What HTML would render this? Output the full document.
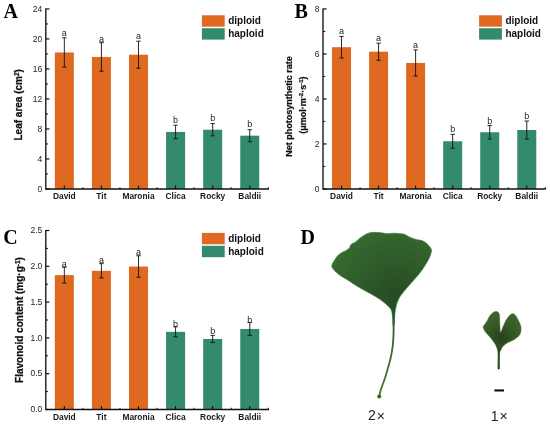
<!DOCTYPE html>
<html><head><meta charset="utf-8"><title>Figure</title>
<style>
html,body{margin:0;padding:0;background:#fff;}
svg{display:block;font-family:"Liberation Sans",sans-serif;}
</style></head>
<body>
<svg width="550" height="426" viewBox="0 0 550 426">
<defs>
<radialGradient id="lg1" gradientUnits="userSpaceOnUse" cx="396" cy="296" r="82">
<stop offset="0" stop-color="#264a24"/>
<stop offset="0.4" stop-color="#2e5929"/>
<stop offset="0.8" stop-color="#35682e"/>
<stop offset="1" stop-color="#3f7a36"/>
</radialGradient>
<linearGradient id="sg" gradientUnits="userSpaceOnUse" x1="0" y1="314" x2="0" y2="396">
<stop offset="0" stop-color="#245329"/>
<stop offset="0.25" stop-color="#3a6428"/>
<stop offset="1" stop-color="#507226"/>
</linearGradient>
<radialGradient id="lg2" gradientUnits="userSpaceOnUse" cx="501" cy="338" r="24">
<stop offset="0" stop-color="#26411c"/>
<stop offset="0.55" stop-color="#325725"/>
<stop offset="1" stop-color="#3d652a"/>
</radialGradient>
</defs>
<rect width="550" height="426" fill="#fff"/>
<rect x="54.84" y="52.45" width="19.0" height="136.50" fill="#DF6921"/>
<rect x="91.92" y="56.95" width="19.0" height="132.00" fill="#DF6921"/>
<rect x="129.01" y="54.70" width="19.0" height="134.25" fill="#DF6921"/>
<rect x="166.09" y="131.95" width="19.0" height="57.00" fill="#348A6F"/>
<rect x="203.18" y="129.70" width="19.0" height="59.25" fill="#348A6F"/>
<rect x="240.26" y="135.70" width="19.0" height="53.25" fill="#348A6F"/>
<path d="M64.34 37.82V67.07M62.14 37.82h4.4M62.14 67.07h4.4" stroke="#111" stroke-width="0.9" fill="none"/>
<text x="64.34" y="35.92" font-size="9" text-anchor="middle" fill="#222">a</text>
<path d="M101.42 42.70V71.20M99.22 42.70h4.4M99.22 71.20h4.4" stroke="#111" stroke-width="0.9" fill="none"/>
<text x="101.42" y="41.60" font-size="9" text-anchor="middle" fill="#222">a</text>
<path d="M138.51 41.20V68.20M136.31 41.20h4.4M136.31 68.20h4.4" stroke="#111" stroke-width="0.9" fill="none"/>
<text x="138.51" y="39.30" font-size="9" text-anchor="middle" fill="#222">a</text>
<path d="M175.59 125.20V138.70M173.39 125.20h4.4M173.39 138.70h4.4" stroke="#111" stroke-width="0.9" fill="none"/>
<text x="175.59" y="123.30" font-size="9" text-anchor="middle" fill="#222">b</text>
<path d="M212.68 123.55V135.85M210.48 123.55h4.4M210.48 135.85h4.4" stroke="#111" stroke-width="0.9" fill="none"/>
<text x="212.68" y="121.25" font-size="9" text-anchor="middle" fill="#222">b</text>
<path d="M249.76 129.70V141.70M247.56 129.70h4.4M247.56 141.70h4.4" stroke="#111" stroke-width="0.9" fill="none"/>
<text x="249.76" y="127.40" font-size="9" text-anchor="middle" fill="#222">b</text>
<path d="M45.8 8.45V188.95H268.90000000000003" stroke="#111" stroke-width="1.35" fill="none"/>
<path d="M45.8 188.95h3.6" stroke="#111" stroke-width="1.2"/>
<text x="42.30" y="192.05" font-size="8.5" text-anchor="end" fill="#222">0</text>
<path d="M45.8 158.95h3.6" stroke="#111" stroke-width="1.2"/>
<text x="42.30" y="162.05" font-size="8.5" text-anchor="end" fill="#222">4</text>
<path d="M45.8 128.95h3.6" stroke="#111" stroke-width="1.2"/>
<text x="42.30" y="132.05" font-size="8.5" text-anchor="end" fill="#222">8</text>
<path d="M45.8 98.95h3.6" stroke="#111" stroke-width="1.2"/>
<text x="42.30" y="102.05" font-size="8.5" text-anchor="end" fill="#222">12</text>
<path d="M45.8 68.95h3.6" stroke="#111" stroke-width="1.2"/>
<text x="42.30" y="72.05" font-size="8.5" text-anchor="end" fill="#222">16</text>
<path d="M45.8 38.95h3.6" stroke="#111" stroke-width="1.2"/>
<text x="42.30" y="42.05" font-size="8.5" text-anchor="end" fill="#222">20</text>
<path d="M45.8 8.95h3.6" stroke="#111" stroke-width="1.2"/>
<text x="42.30" y="12.05" font-size="8.5" text-anchor="end" fill="#222">24</text>
<path d="M45.8 173.95h2.3" stroke="#111" stroke-width="1"/>
<path d="M45.8 143.95h2.3" stroke="#111" stroke-width="1"/>
<path d="M45.8 113.95h2.3" stroke="#111" stroke-width="1"/>
<path d="M45.8 83.95h2.3" stroke="#111" stroke-width="1"/>
<path d="M45.8 53.95h2.3" stroke="#111" stroke-width="1"/>
<path d="M45.8 23.95h2.3" stroke="#111" stroke-width="1"/>
<path d="M268.30 188.95v-1.7" stroke="#111" stroke-width="1"/>
<path d="M64.34 188.95v-3.4" stroke="#111" stroke-width="1.1"/>
<text x="64.34" y="199.15" font-size="8.4" font-weight="bold" text-anchor="middle" fill="#1a1a1a">David</text>
<path d="M101.42 188.95v-3.4" stroke="#111" stroke-width="1.1"/>
<path d="M82.88 188.95v-1.7" stroke="#111" stroke-width="1"/>
<text x="101.42" y="199.15" font-size="8.4" font-weight="bold" text-anchor="middle" fill="#1a1a1a">Tit</text>
<path d="M138.51 188.95v-3.4" stroke="#111" stroke-width="1.1"/>
<path d="M119.97 188.95v-1.7" stroke="#111" stroke-width="1"/>
<text x="138.51" y="199.15" font-size="8.4" font-weight="bold" text-anchor="middle" fill="#1a1a1a">Maronia</text>
<path d="M175.59 188.95v-3.4" stroke="#111" stroke-width="1.1"/>
<path d="M157.05 188.95v-1.7" stroke="#111" stroke-width="1"/>
<text x="175.59" y="199.15" font-size="8.4" font-weight="bold" text-anchor="middle" fill="#1a1a1a">Clica</text>
<path d="M212.68 188.95v-3.4" stroke="#111" stroke-width="1.1"/>
<path d="M194.13 188.95v-1.7" stroke="#111" stroke-width="1"/>
<text x="212.68" y="199.15" font-size="8.4" font-weight="bold" text-anchor="middle" fill="#1a1a1a">Rocky</text>
<path d="M249.76 188.95v-3.4" stroke="#111" stroke-width="1.1"/>
<path d="M231.22 188.95v-1.7" stroke="#111" stroke-width="1"/>
<text x="249.76" y="199.15" font-size="8.4" font-weight="bold" text-anchor="middle" fill="#1a1a1a">Baldii</text>
<rect x="201.90" y="15.30" width="22.8" height="11.4" fill="#DF6921"/>
<rect x="201.90" y="28.20" width="22.8" height="11.4" fill="#348A6F"/>
<text x="228.20" y="24.20" font-size="10" font-weight="bold" fill="#111">diploid</text>
<text x="228.20" y="37.10" font-size="10" font-weight="bold" fill="#111">haploid</text>
<text x="3.5" y="17.7" font-family="Liberation Serif, serif" font-size="20" font-weight="bold" fill="#000">A</text>
<text transform="translate(22.2 104.8) rotate(-90)" stroke="#111" stroke-width="0.25" font-size="10" font-weight="bold" text-anchor="middle" fill="#111">Leaf area (cm<tspan font-size="6.5" dy="-3.6">2</tspan><tspan dy="3.6">)</tspan></text>
<rect x="332.02" y="47.20" width="19.0" height="141.75" fill="#DF6921"/>
<rect x="369.07" y="51.70" width="19.0" height="137.25" fill="#DF6921"/>
<rect x="406.12" y="62.95" width="19.0" height="126.00" fill="#DF6921"/>
<rect x="443.17" y="141.25" width="19.0" height="47.70" fill="#348A6F"/>
<rect x="480.22" y="132.25" width="19.0" height="56.70" fill="#348A6F"/>
<rect x="517.27" y="130.00" width="19.0" height="58.95" fill="#348A6F"/>
<path d="M341.52 36.40V58.00M339.32 36.40h4.4M339.32 58.00h4.4" stroke="#111" stroke-width="0.9" fill="none"/>
<text x="341.52" y="33.70" font-size="9" text-anchor="middle" fill="#222">a</text>
<path d="M378.57 43.15V60.25M376.38 43.15h4.4M376.38 60.25h4.4" stroke="#111" stroke-width="0.9" fill="none"/>
<text x="378.57" y="41.35" font-size="9" text-anchor="middle" fill="#222">a</text>
<path d="M415.62 49.90V76.00M413.43 49.90h4.4M413.43 76.00h4.4" stroke="#111" stroke-width="0.9" fill="none"/>
<text x="415.62" y="48.00" font-size="9" text-anchor="middle" fill="#222">a</text>
<path d="M452.67 134.27V148.22M450.47 134.27h4.4M450.47 148.22h4.4" stroke="#111" stroke-width="0.9" fill="none"/>
<text x="452.67" y="132.37" font-size="9" text-anchor="middle" fill="#222">b</text>
<path d="M489.72 125.50V139.00M487.52 125.50h4.4M487.52 139.00h4.4" stroke="#111" stroke-width="0.9" fill="none"/>
<text x="489.72" y="123.60" font-size="9" text-anchor="middle" fill="#222">b</text>
<path d="M526.77 121.00V139.00M524.57 121.00h4.4M524.57 139.00h4.4" stroke="#111" stroke-width="0.9" fill="none"/>
<text x="526.77" y="118.50" font-size="9" text-anchor="middle" fill="#222">b</text>
<path d="M323.0 8.45V188.95H545.9" stroke="#111" stroke-width="1.35" fill="none"/>
<path d="M323.0 188.95h3.6" stroke="#111" stroke-width="1.2"/>
<text x="319.50" y="192.05" font-size="8.5" text-anchor="end" fill="#222">0</text>
<path d="M323.0 143.95h3.6" stroke="#111" stroke-width="1.2"/>
<text x="319.50" y="147.05" font-size="8.5" text-anchor="end" fill="#222">2</text>
<path d="M323.0 98.95h3.6" stroke="#111" stroke-width="1.2"/>
<text x="319.50" y="102.05" font-size="8.5" text-anchor="end" fill="#222">4</text>
<path d="M323.0 53.95h3.6" stroke="#111" stroke-width="1.2"/>
<text x="319.50" y="57.05" font-size="8.5" text-anchor="end" fill="#222">6</text>
<path d="M323.0 8.95h3.6" stroke="#111" stroke-width="1.2"/>
<text x="319.50" y="12.05" font-size="8.5" text-anchor="end" fill="#222">8</text>
<path d="M323.0 166.45h2.3" stroke="#111" stroke-width="1"/>
<path d="M323.0 121.45h2.3" stroke="#111" stroke-width="1"/>
<path d="M323.0 76.45h2.3" stroke="#111" stroke-width="1"/>
<path d="M323.0 31.45h2.3" stroke="#111" stroke-width="1"/>
<path d="M545.30 188.95v-1.7" stroke="#111" stroke-width="1"/>
<path d="M341.52 188.95v-3.4" stroke="#111" stroke-width="1.1"/>
<text x="341.52" y="199.15" font-size="8.4" font-weight="bold" text-anchor="middle" fill="#1a1a1a">David</text>
<path d="M378.57 188.95v-3.4" stroke="#111" stroke-width="1.1"/>
<path d="M360.05 188.95v-1.7" stroke="#111" stroke-width="1"/>
<text x="378.57" y="199.15" font-size="8.4" font-weight="bold" text-anchor="middle" fill="#1a1a1a">Tit</text>
<path d="M415.62 188.95v-3.4" stroke="#111" stroke-width="1.1"/>
<path d="M397.10 188.95v-1.7" stroke="#111" stroke-width="1"/>
<text x="415.62" y="199.15" font-size="8.4" font-weight="bold" text-anchor="middle" fill="#1a1a1a">Maronia</text>
<path d="M452.67 188.95v-3.4" stroke="#111" stroke-width="1.1"/>
<path d="M434.15 188.95v-1.7" stroke="#111" stroke-width="1"/>
<text x="452.67" y="199.15" font-size="8.4" font-weight="bold" text-anchor="middle" fill="#1a1a1a">Clica</text>
<path d="M489.72 188.95v-3.4" stroke="#111" stroke-width="1.1"/>
<path d="M471.20 188.95v-1.7" stroke="#111" stroke-width="1"/>
<text x="489.72" y="199.15" font-size="8.4" font-weight="bold" text-anchor="middle" fill="#1a1a1a">Rocky</text>
<path d="M526.77 188.95v-3.4" stroke="#111" stroke-width="1.1"/>
<path d="M508.25 188.95v-1.7" stroke="#111" stroke-width="1"/>
<text x="526.77" y="199.15" font-size="8.4" font-weight="bold" text-anchor="middle" fill="#1a1a1a">Baldii</text>
<rect x="479.10" y="15.30" width="22.8" height="11.4" fill="#DF6921"/>
<rect x="479.10" y="28.20" width="22.8" height="11.4" fill="#348A6F"/>
<text x="505.40" y="24.20" font-size="10" font-weight="bold" fill="#111">diploid</text>
<text x="505.40" y="37.10" font-size="10" font-weight="bold" fill="#111">haploid</text>
<text x="294.5" y="17.7" font-family="Liberation Serif, serif" font-size="20" font-weight="bold" fill="#000">B</text>
<text transform="translate(292.3 106.6) rotate(-90)" stroke="#111" stroke-width="0.25" font-size="9" font-weight="bold" text-anchor="middle" fill="#111">Net photosynthetic rate</text>
<text transform="translate(306.0 105.1) rotate(-90)" stroke="#111" stroke-width="0.25" font-size="9" font-weight="bold" text-anchor="middle" fill="#111">(μmol·m<tspan font-size="6" dy="-3.2">-2</tspan><tspan dy="3.2">·s</tspan><tspan font-size="6" dy="-3.2">-1</tspan><tspan dy="3.2">)</tspan></text>
<rect x="54.84" y="275.11" width="19.0" height="134.39" fill="#DF6921"/>
<rect x="91.92" y="270.81" width="19.0" height="138.69" fill="#DF6921"/>
<rect x="129.01" y="266.51" width="19.0" height="142.99" fill="#DF6921"/>
<rect x="166.09" y="331.81" width="19.0" height="77.69" fill="#348A6F"/>
<rect x="203.18" y="338.97" width="19.0" height="70.53" fill="#348A6F"/>
<rect x="240.26" y="328.95" width="19.0" height="80.55" fill="#348A6F"/>
<path d="M64.34 267.23V282.98M62.14 267.23h4.4M62.14 282.98h4.4" stroke="#111" stroke-width="0.9" fill="none"/>
<text x="64.34" y="267.13" font-size="9" text-anchor="middle" fill="#222">a</text>
<path d="M101.42 263.65V277.97M99.22 263.65h4.4M99.22 277.97h4.4" stroke="#111" stroke-width="0.9" fill="none"/>
<text x="101.42" y="262.95" font-size="9" text-anchor="middle" fill="#222">a</text>
<path d="M138.51 255.77V277.25M136.31 255.77h4.4M136.31 277.25h4.4" stroke="#111" stroke-width="0.9" fill="none"/>
<text x="138.51" y="255.27" font-size="9" text-anchor="middle" fill="#222">a</text>
<path d="M175.59 326.80V336.83M173.39 326.80h4.4M173.39 336.83h4.4" stroke="#111" stroke-width="0.9" fill="none"/>
<text x="175.59" y="326.80" font-size="9" text-anchor="middle" fill="#222">b</text>
<path d="M212.68 335.39V342.55M210.48 335.39h4.4M210.48 342.55h4.4" stroke="#111" stroke-width="0.9" fill="none"/>
<text x="212.68" y="333.79" font-size="9" text-anchor="middle" fill="#222">b</text>
<path d="M249.76 322.51V335.39M247.56 322.51h4.4M247.56 335.39h4.4" stroke="#111" stroke-width="0.9" fill="none"/>
<text x="249.76" y="322.51" font-size="9" text-anchor="middle" fill="#222">b</text>
<path d="M45.8 230.0V409.5H268.90000000000003" stroke="#111" stroke-width="1.35" fill="none"/>
<path d="M45.8 409.50h3.6" stroke="#111" stroke-width="1.2"/>
<text x="42.30" y="412.10" font-size="8.5" text-anchor="end" fill="#222">0.0</text>
<path d="M45.8 373.70h3.6" stroke="#111" stroke-width="1.2"/>
<text x="42.30" y="376.30" font-size="8.5" text-anchor="end" fill="#222">0.5</text>
<path d="M45.8 337.90h3.6" stroke="#111" stroke-width="1.2"/>
<text x="42.30" y="340.50" font-size="8.5" text-anchor="end" fill="#222">1.0</text>
<path d="M45.8 302.10h3.6" stroke="#111" stroke-width="1.2"/>
<text x="42.30" y="304.70" font-size="8.5" text-anchor="end" fill="#222">1.5</text>
<path d="M45.8 266.30h3.6" stroke="#111" stroke-width="1.2"/>
<text x="42.30" y="268.90" font-size="8.5" text-anchor="end" fill="#222">2.0</text>
<path d="M45.8 230.50h3.6" stroke="#111" stroke-width="1.2"/>
<text x="42.30" y="233.10" font-size="8.5" text-anchor="end" fill="#222">2.5</text>
<path d="M45.8 391.60h2.3" stroke="#111" stroke-width="1"/>
<path d="M45.8 355.80h2.3" stroke="#111" stroke-width="1"/>
<path d="M45.8 320.00h2.3" stroke="#111" stroke-width="1"/>
<path d="M45.8 284.20h2.3" stroke="#111" stroke-width="1"/>
<path d="M45.8 248.40h2.3" stroke="#111" stroke-width="1"/>
<path d="M268.30 409.5v-1.7" stroke="#111" stroke-width="1"/>
<path d="M64.34 409.5v-3.4" stroke="#111" stroke-width="1.1"/>
<text x="64.34" y="419.70" font-size="8.4" font-weight="bold" text-anchor="middle" fill="#1a1a1a">David</text>
<path d="M101.42 409.5v-3.4" stroke="#111" stroke-width="1.1"/>
<path d="M82.88 409.5v-1.7" stroke="#111" stroke-width="1"/>
<text x="101.42" y="419.70" font-size="8.4" font-weight="bold" text-anchor="middle" fill="#1a1a1a">Tit</text>
<path d="M138.51 409.5v-3.4" stroke="#111" stroke-width="1.1"/>
<path d="M119.97 409.5v-1.7" stroke="#111" stroke-width="1"/>
<text x="138.51" y="419.70" font-size="8.4" font-weight="bold" text-anchor="middle" fill="#1a1a1a">Maronia</text>
<path d="M175.59 409.5v-3.4" stroke="#111" stroke-width="1.1"/>
<path d="M157.05 409.5v-1.7" stroke="#111" stroke-width="1"/>
<text x="175.59" y="419.70" font-size="8.4" font-weight="bold" text-anchor="middle" fill="#1a1a1a">Clica</text>
<path d="M212.68 409.5v-3.4" stroke="#111" stroke-width="1.1"/>
<path d="M194.13 409.5v-1.7" stroke="#111" stroke-width="1"/>
<text x="212.68" y="419.70" font-size="8.4" font-weight="bold" text-anchor="middle" fill="#1a1a1a">Rocky</text>
<path d="M249.76 409.5v-3.4" stroke="#111" stroke-width="1.1"/>
<path d="M231.22 409.5v-1.7" stroke="#111" stroke-width="1"/>
<text x="249.76" y="419.70" font-size="8.4" font-weight="bold" text-anchor="middle" fill="#1a1a1a">Baldii</text>
<rect x="201.90" y="232.90" width="22.8" height="11.4" fill="#DF6921"/>
<rect x="201.90" y="245.80" width="22.8" height="11.4" fill="#348A6F"/>
<text x="228.20" y="241.80" font-size="10" font-weight="bold" fill="#111">diploid</text>
<text x="228.20" y="254.70" font-size="10" font-weight="bold" fill="#111">haploid</text>
<text x="3.2" y="243.9" font-family="Liberation Serif, serif" font-size="20" font-weight="bold" fill="#000">C</text>
<text transform="translate(23.1 320) rotate(-90)" stroke="#111" stroke-width="0.25" font-size="10" font-weight="bold" text-anchor="middle" fill="#111">Flavonoid content (mg·g<tspan font-size="6.5" dy="-3.6">-1</tspan><tspan dy="3.6">)</tspan></text>
<text x="300.4" y="243.8" font-family="Liberation Serif, serif" font-size="20" font-weight="bold" fill="#000">D</text>
<path d="M331.8 265.6C332.1 263.9 333.8 261.1 335.1 259.2C336.4 257.3 338.0 255.4 339.5 254.1C341.0 252.8 342.4 252.4 344.0 251.5C345.6 250.6 347.9 249.6 349.1 248.4C350.3 247.2 349.9 245.6 351.0 244.5C352.1 243.4 354.0 243.1 355.5 242.0C357.0 240.9 358.2 239.5 359.9 238.2C361.6 236.9 363.6 235.4 365.6 234.4C367.6 233.4 369.4 232.7 372.0 232.4C374.6 232.1 378.3 232.6 380.9 232.8C383.4 233.0 385.2 233.6 387.3 233.7C389.4 233.8 391.5 233.2 393.6 233.2C395.7 233.2 398.2 233.5 400.0 233.7C401.8 233.9 402.4 233.6 404.2 234.2C405.9 234.8 408.4 236.6 410.5 237.5C412.6 238.4 415.0 239.2 416.9 239.7C418.8 240.2 420.3 239.9 422.0 240.6C423.7 241.3 425.6 242.6 427.1 243.9C428.6 245.2 430.2 247.0 430.9 248.4C431.6 249.8 431.6 250.5 431.3 252.2C431.0 253.9 430.1 256.2 429.0 258.5C427.9 260.8 426.3 263.4 424.5 266.2C422.7 269.0 420.4 272.3 418.2 275.1C415.9 277.9 413.4 280.5 411.0 283.2C408.6 285.9 405.8 289.1 403.8 291.5C401.8 293.9 400.4 295.8 399.2 297.9C398.0 300.0 397.2 302.2 396.6 304.3C396.0 306.4 395.7 308.3 395.3 310.6C394.9 312.9 394.7 315.9 394.5 318.3C394.3 320.7 394.4 323.9 394.2 325.0C393.9 326.1 393.2 326.2 393.0 325.0C392.8 323.8 392.9 320.4 392.7 318.0C392.4 315.6 392.2 312.6 391.5 310.6C390.8 308.6 389.6 307.7 388.2 306.2C386.8 304.7 385.2 303.3 383.1 301.7C381.0 300.1 378.3 298.3 375.5 296.6C372.7 294.9 369.5 293.2 366.5 291.5C363.5 289.8 360.4 288.2 357.6 286.5C354.9 284.8 352.1 282.9 350.0 281.5C347.9 280.1 346.6 279.4 344.8 278.3C343.0 277.2 341.1 276.2 339.2 274.7C337.3 273.2 334.8 270.9 333.6 269.4C332.4 267.9 331.6 267.3 331.8 265.6Z" fill="url(#lg1)" stroke="#3f7a3e" stroke-width="0.7" stroke-linejoin="round"/>
<path d="M393.6 313.0C393.6 314.8 393.7 319.8 393.6 323.5C393.6 327.2 393.7 331.1 393.5 335.0C393.3 338.9 393.1 343.0 392.6 347.0C392.1 351.0 391.3 355.1 390.4 359.0C389.5 362.9 388.3 366.9 387.3 370.4C386.3 373.9 385.4 376.9 384.3 380.0C383.2 383.1 381.8 386.6 381.0 389.2C380.2 391.8 379.7 394.4 379.4 395.4" stroke="url(#sg)" stroke-width="1.8" fill="none" stroke-linecap="round"/>
<circle cx="379.2" cy="396.4" r="2" fill="#41601f"/>
<path d="M483.2 326.8C483.3 325.5 484.7 324.6 485.4 323.5C486.1 322.4 487.0 321.2 487.6 320.0C488.2 318.8 488.5 317.7 489.3 316.5C490.1 315.3 491.4 313.9 492.4 313.0C493.4 312.1 494.5 311.5 495.5 311.4C496.5 311.3 497.8 311.6 498.5 312.5C499.2 313.4 499.4 314.7 499.6 316.5C499.8 318.3 499.6 320.9 499.8 323.5C500.0 326.1 500.0 331.8 500.6 332.2C501.2 332.6 502.3 328.3 503.3 326.1C504.3 323.9 505.6 321.0 506.8 319.1C508.0 317.2 509.2 315.6 510.3 314.7C511.4 313.8 512.3 313.5 513.3 313.7C514.2 313.9 515.1 314.8 516.0 316.0C516.9 317.2 517.8 319.1 518.6 320.8C519.4 322.5 520.4 324.4 520.8 326.1C521.2 327.9 521.2 329.7 520.9 331.3C520.6 332.9 520.2 334.4 519.0 335.8C517.8 337.2 515.5 338.7 513.5 339.9C511.5 341.1 508.6 342.1 506.8 343.2C505.0 344.3 503.9 345.4 502.9 346.5C501.9 347.6 501.4 348.8 500.9 350.0C500.3 351.2 499.9 351.5 499.6 353.5C499.4 355.5 499.4 359.7 499.4 362.2C499.4 364.7 499.8 367.5 499.5 368.6C499.2 369.7 498.2 369.7 497.9 368.6C497.6 367.5 497.9 364.7 497.9 362.2C497.9 359.7 498.0 355.7 497.9 353.5C497.8 351.3 497.6 350.6 497.2 349.1C496.8 347.6 496.3 346.1 495.5 344.7C494.7 343.2 493.7 341.9 492.6 340.4C491.5 338.9 490.1 337.3 488.8 335.8C487.5 334.3 485.9 332.8 485.0 331.3C484.1 329.8 483.1 328.1 483.2 326.8Z" fill="url(#lg2)" stroke="#586f2f" stroke-width="0.5" stroke-linejoin="round"/>
<path d="M498.9 347 L498.7 368.6" stroke="#2b471c" stroke-width="1.5" fill="none" stroke-linecap="round"/>
<rect x="494.4" y="389.4" width="9.6" height="2.1" fill="#111"/>
<text x="368.1" y="420.4" font-size="14" fill="#222">2<tspan dx="0.9" dy="0.3">×</tspan></text>
<text x="490.8" y="420.7" font-size="14" fill="#222">1<tspan dx="0.9" dy="0.3">×</tspan></text>
</svg>
</body></html>
